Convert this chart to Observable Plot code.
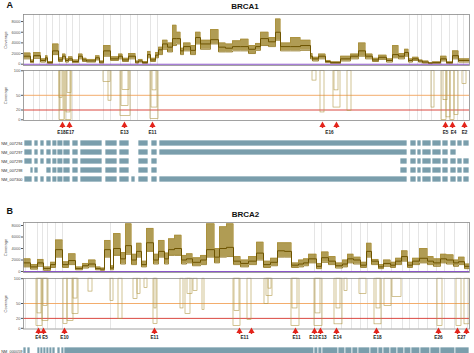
<!DOCTYPE html>
<html><head><meta charset="utf-8">
<script src="https://cdn.jsdelivr.net/npm/d3@7"></script>
<script src="https://cdn.jsdelivr.net/npm/@observablehq/plot@0.6"></script>
<style>
body{margin:0;background:#fff;font-family:"Liberation Sans",Arial,sans-serif;}
#c{position:relative;width:474px;height:353px;overflow:hidden;background:#fff;}
.p{position:absolute;left:0;}
.t{position:absolute;font-weight:bold;color:#111;line-height:1;white-space:nowrap;}
</style></head><body><div id="c"></div>
<script>
// ---------- BRCA1 coverage (relative gene position 0..446) ----------
const brca1Start = [0,7,10,17,22,24,29,35,39,42,45,49,55,59,63,72,76,80,87,95,99,105,112,115,119,124,127,132,135,139,144,149,153,157,160,167,172,177,187,195,202,209,217,225,232,237,245,252,257,267,277,287,289,295,302,307,317,327,335,342,349,355,363,369,375,381,385,389,395,399,405,409,417,423,429,435];
const brca1Mid = [1500,500,1600,700,1200,300,2500,800,1500,700,1000,500,1500,800,600,1200,400,2500,1000,1500,800,1500,400,600,300,1800,800,1700,2700,3800,3200,4800,4800,2500,3300,2600,5000,3800,4600,3200,3000,3300,3300,2800,3300,4800,4200,6000,3300,3300,3500,1500,1000,1500,500,300,1000,1500,2500,1500,800,1300,700,1800,1500,2200,700,1000,600,400,200,300,1000,300,1600,700];
const brca1Lo = [1000,300,1100,400,800,150,1800,500,1000,400,700,300,1000,500,400,800,200,1500,700,1000,500,1000,200,400,150,1200,500,1200,1800,2800,2300,3500,3800,1800,2500,1800,3800,2800,3800,2300,2300,2500,2500,2000,2600,3500,3300,4500,2500,2500,2600,1000,600,1000,300,150,600,1000,1500,1000,500,900,400,1200,1000,1500,400,700,400,200,100,150,600,150,1000,400];
const brca1Hi = [2100,800,2200,1000,1600,500,3800,1200,1900,1000,1400,800,1900,1100,900,1600,600,3500,1400,1900,1100,2000,600,900,500,2400,1100,2200,3200,4500,4000,7300,6000,3000,4000,3500,6000,4500,6500,4000,3800,4400,4700,3500,3900,6000,5000,8500,4000,5000,4500,2000,1300,1900,700,450,1500,1900,4000,1900,1100,1700,1000,3500,2000,2800,1000,1300,800,600,300,450,1500,450,2500,1000];
const brca1Grey = [10,16,23,29,36,43,49,56,80,87,97,107,114,127,134,386,394,398,408,418,426,434,440];
// low-coverage regions (<100x)
const brca1LowX1 = [36,37,36,42,43,44,80,85,97,98,99,127,128,129,289,297,310,311,324,408,418,423,427,431,420,439];
const brca1LowX2 = [41,40,39,48,47,48,87,88,107,105,106,135,134,133,293,301,317,315,328,411,423,427,431,435,424,443];
const brca1LowMin = [0,20,45,0,15,55,77,39,8,28,61,2,25,60,80,15,25,60,18,25,0,5,0,10,40,73];
const brca1Arrows = [39,46,101,129,299,313,422,429,441];
const brca1LabelPos = [38,46.5,101,129,306,422,430,441];
const brca1Labels = ["E18","E17","E13","E11","E16","E5","E4","E2"];
const brca1Tx = ["NM_007294","NM_007297","NM_007299","NM_007298","NM_007300"];
const txLeft = [[1,9],[11,15],[17,21],[23,28],[29,34],[34,40],[40,47],[49,55],[57,79],[82,94],[96,106],[115,125],[128,134]];
const txRight = [[387,393],[394,398],[399,408],[409,418],[419,425],[427,433],[434,439],[440,446]];
const brca1Exons = [
  [...txLeft, [136,384], ...txRight],
  [...txLeft, [136,384], ...txRight.slice(0,6)],
  [...txLeft, [377,384], ...txRight],
  [[7,10],[11,15],...txLeft.slice(3), [377,384], ...txRight],
  [...txLeft.slice(0,11), [108,112], ...txLeft.slice(11), [136,384], ...txRight]
];

// ---------- BRCA2 ----------
const brca2Start = [0,7,14,20,27,32,39,45,52,59,65,72,77,81,87,90,97,102,108,113,118,123,130,135,141,145,151,158,163,169,177,183,191,196,203,210,217,225,233,240,247,254,261,268,275,280,285,293,298,305,312,319,324,330,337,343,348,355,360,367,372,378,384,389,396,404,410,417,423,430,435,441];
const brca2Lo = [800,400,900,200,700,2500,700,1200,300,600,800,300,200,2500,300,2800,1300,3000,1200,2500,800,3500,1300,2500,1300,2800,2800,1300,1500,1000,1200,2500,1500,2500,2600,1200,800,1200,2000,700,1000,2500,2500,700,800,1000,1500,500,1600,1200,600,800,1500,1300,700,2500,1200,500,900,700,1200,1800,700,1200,1500,1200,900,1500,1300,900,1200,500];
const brca2Mid = [1500,800,1500,500,1200,3800,1200,1900,500,1000,1300,500,400,3800,600,4000,2200,4500,2000,3500,1200,5000,2000,3500,2200,3800,4000,2000,2200,1600,2000,3800,2500,4000,4200,1800,1400,1800,3200,1200,1600,3600,3500,1100,1300,1500,2200,900,2400,1800,1000,1300,2200,2000,1100,3500,1800,800,1400,1100,1800,2600,1100,1800,2300,1800,1500,2200,2000,1500,1700,900];
const brca2Hi = [2200,1200,2100,800,1600,5500,1700,3100,800,1400,2000,800,600,5400,1000,6600,3300,8300,3000,4900,1800,7500,3000,5400,3200,5700,6300,2800,3100,2400,2800,8300,4000,7800,8300,2600,2000,2600,5100,1800,2300,5000,5000,1500,2000,2200,3000,1400,3400,2600,1500,2000,3000,2500,1600,4900,2100,1200,2000,1600,2300,3600,1600,2300,4000,2600,2200,3000,2900,2000,2500,1300];
const brca2Grey = [2,14,19,24,32,39,87,291,298,318,328,337,344,358,368,379,386,395,404,413,421,431,444];
const brca2LowX1 = [13,14,19,20,40,44,49,50,65,87,95,110,114,121,130,131,157,162,164,170,179,210,211,224,241,243,245,268,269,291,292,311,313,321,336,351,353,361,369,414,433,441];
const brca2LowX2 = [19,18,25,24,44,50,55,54,69,90,99,114,117,124,134,133,160,167,169,174,181,217,216,228,245,249,248,276,274,299,297,319,317,324,343,358,357,368,378,419,438,446];
const brca2LowMin = [5,30,15,45,9,15,29,60,74,55,19,59,69,81,9,40,40,29,69,75,37,5,35,17,49,65,80,5,40,5,30,8,40,75,69,8,40,45,63,5,5,8];
const brca2Arrows = [15,20,41,131,216,228,272,291,297,313,353,415,434,443];
const brca2LabelPos = [14.5,21.5,41,131,221,273,290,299,314,354,415,438];
const brca2Labels = ["E4","E5","E10","E11","E11","E11","E12","E13","E14","E18","E26","E27"];
const brca2Tx = ["NM_000059"];
const brca2Exons = [[[0,3],[4,7],[14,17],[17,20],[20,23],[23,26],[26,29],[29,32],[34,37],[38,41],[41,291],[291,295],[295,299],[299,315],[315,322],[322,329],[329,335],[335,347],[347,355],[355,360],[360,367],[367,374],[374,381],[381,388],[388,397],[397,407],[407,417],[417,432],[432,446]]];

// ---------- drawing ----------
const C = document.getElementById("c");
const FONT = "Liberation Sans, Arial, sans-serif";
const common = {width:474, marginLeft:23, marginRight:5, x:{domain:[0,446], axis:null},
  style:{fontFamily:FONT, background:"transparent", overflow:"visible"}};
function place(el, top){ const d=document.createElement("div"); d.className="p"; d.style.top=top+"px"; d.appendChild(el); C.appendChild(d); }
function title(txt, left, top, size, center){ const d=document.createElement("div"); d.className="t"; d.textContent=txt; d.style.fontSize=size+"px"; d.style.top=top+"px";
  if(center){ d.style.left=(left-60)+"px"; d.style.width="120px"; d.style.textAlign="center"; } else d.style.left=left+"px"; C.appendChild(d); }

const fmt = d3.format("d");
function coveragePlot(starts, lo, mid, hi, yDomain, grey, height){
  const rows = starts.map((s,i)=>({pos:s, lo:lo[i], mid:mid[i], hi:hi[i]}));
  rows.push({...rows[rows.length-1], pos:446});
  return Plot.plot({...common, height, marginTop:1, marginBottom:1,
    y:{domain:yDomain},
    marks:[
      Plot.ruleX(grey, {stroke:"#d4d4d4", strokeWidth:0.6}),
      Plot.areaY(rows, {x:"pos", y1:"lo", y2:"hi", curve:"step-after", fill:"#8f720c", fillOpacity:0.7}),
      Plot.lineY(rows, {x:"pos", y:"hi", curve:"step-after", stroke:"#a88c30", strokeWidth:0.6}),
      Plot.lineY(rows, {x:"pos", y:"lo", curve:"step-after", stroke:"#86690a", strokeWidth:0.8}),
      Plot.lineY(rows, {x:"pos", y:"mid", curve:"step-after", stroke:"#6e5400", strokeWidth:1}),
      Plot.ruleY([0], {stroke:"#8a55c8", strokeWidth:1.1}),
      Plot.frame({stroke:"#8a8a8a", strokeWidth:0.8}),
      Plot.axisY({ticks:[0,2000,4000,6000,8000], tickFormat:fmt, tickSize:2, tickPadding:1, fontSize:4, color:"#555",
        label:"Coverage", labelAnchor:"center", labelArrow:"none", labelOffset:19})
    ]});
}
function lowPlot(x1, x2, mins, grey, yDomain, height){
  const rects = x1.map((a,i)=>({x1:a, x2:x2[i], min:mins[i]}));
  return Plot.plot({...common, height, marginTop:1, marginBottom:1,
    y:{domain:yDomain},
    marks:[
      Plot.ruleX(grey, {stroke:"#d4d4d4", strokeWidth:0.6}),
      Plot.ruleY([50], {stroke:"#f2a45c", strokeWidth:0.9}),
      Plot.ruleY([20], {stroke:"#d6332b", strokeWidth:0.9}),
      Plot.rect(rects, {x1:"x1", x2:"x2", y1:"min", y2:100, stroke:"#b39a4a", fill:"none", strokeWidth:0.6}),
      Plot.frame({stroke:"#8a8a8a", strokeWidth:0.8}),
      Plot.axisY({ticks:[0,20,50,100], tickFormat:fmt, tickSize:2, tickPadding:1, fontSize:4, color:"#555",
        label:"Coverage", labelAnchor:"center", labelArrow:"none", labelOffset:19})
    ]});
}
function arrowPlot(arrows, labelPos, labels, dy){
  return Plot.plot({...common, height:16, marginTop:1, marginBottom:10,
    marks:[
      Plot.ruleX(arrows, {x:d=>d, stroke:"#e3241b", strokeWidth:1.5, insetTop:2}),
      Plot.dot(arrows, {x:d=>d, frameAnchor:"top", symbol:"triangle", r:2.3, fill:"#e3241b", stroke:"none", dy:1.6}),
      Plot.text(labels, {x:(d,i)=>labelPos[i], text:d=>d, frameAnchor:"bottom", dy, fontSize:4.7, fontWeight:"bold", fill:"#222"})
    ]});
}
function txPlot(names, exons, height, padding){
  const rows = [];
  names.forEach((n,i)=>exons[i].forEach(([a,b])=>rows.push({tx:n, a, b})));
  return Plot.plot({...common, height, marginTop:0, marginBottom:0,
    y:{domain:names, axis:null, padding},
    marks:[
      Plot.barX(rows, {x1:"a", x2:"b", y:"tx", fill:"#7a9eac", stroke:"#ffffff", strokeWidth:0.7}),
      Plot.text(names, {x:0, y:d=>d, text:d=>d, textAnchor:"end", dx:-1, fontSize:3.9, fill:"#333"})
    ]});
}

title("A", 6.5, 0.8, 9, false);
title("BRCA1", 245, 3, 8, true);
place(coveragePlot(brca1Start, brca1Lo, brca1Mid, brca1Hi, [-245,9325], brca1Grey, 53), 13);
place(lowPlot(brca1LowX1, brca1LowX2, brca1LowMin, brca1Grey, [-1.4,100.6], 52), 69);
place(arrowPlot(brca1Arrows, brca1LabelPos, brca1Labels, 5), 121.5);
place(txPlot(brca1Tx, brca1Exons, 49, 0.34), 135.6);

title("B", 6.5, 206.8, 9, false);
title("BRCA2", 245.5, 210.7, 8, true);
place(coveragePlot(brca2Start, brca2Lo, brca2Mid, brca2Hi, [-174,8522], brca2Grey, 52), 221);
place(lowPlot(brca2LowX1, brca2LowX2, brca2LowMin, brca2Grey, [-1.4,100.4], 52.5), 276.5);
place(arrowPlot(brca2Arrows, brca2LabelPos, brca2Labels, 4), 328.3);
place(txPlot(brca2Tx, brca2Exons, 8, 0), 347);
</script></body></html>
